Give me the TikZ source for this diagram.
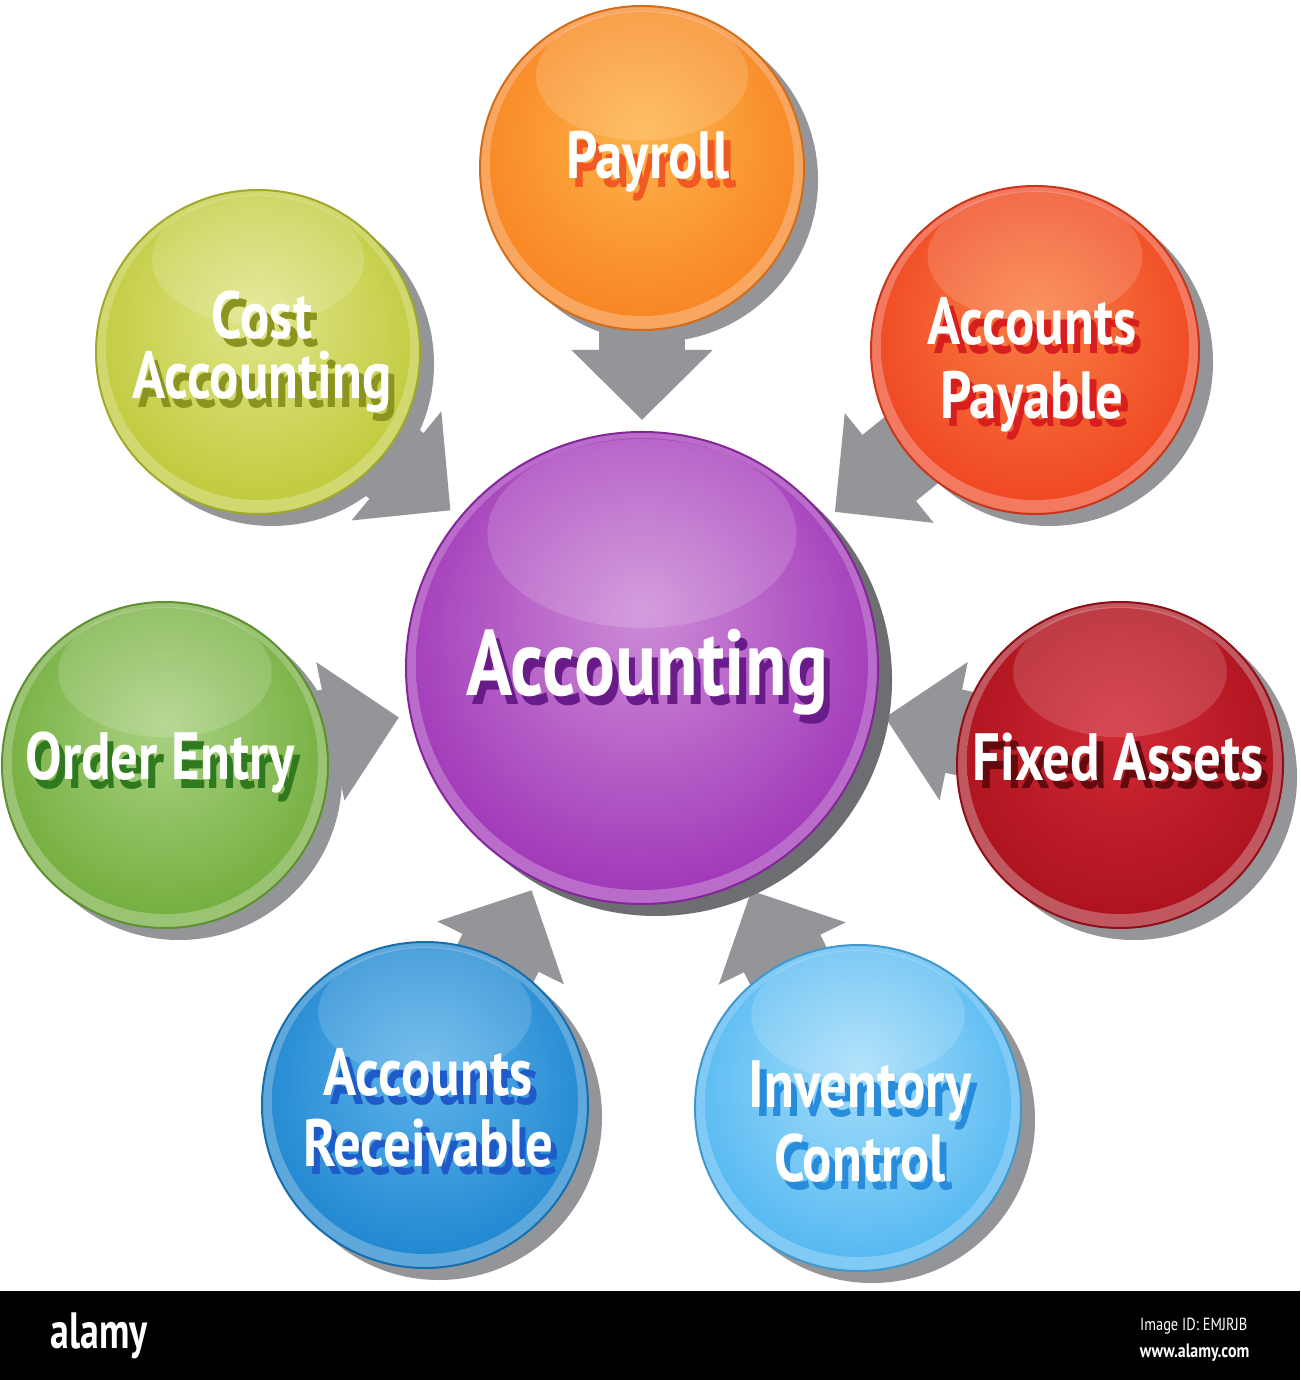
\documentclass[tikz,border=0pt]{standalone}
\usepackage{fontspec}
\newfontfamily\lblfont{PT Sans}[FakeStretch=0.82]
\newfontfamily\brandfont{PT Sans}[FakeStretch=0.74]
\usetikzlibrary{calc,arrows.meta}
\definecolor{arrowgray}{HTML}{939598}
\definecolor{darkgray}{HTML}{6D6E71}
\definecolor{payout}{HTML}{F7801E}\definecolor{payin}{HTML}{FDB44B}\definecolor{payshd}{HTML}{F05A22}
\definecolor{apout}{HTML}{EE401E}\definecolor{apin}{HTML}{F98044}\definecolor{apshd}{HTML}{D81E1E}
\definecolor{caout}{HTML}{BCC732}\definecolor{cain}{HTML}{E1E68C}\definecolor{cashd}{HTML}{8C9420}
\definecolor{accout}{HTML}{9B2DB4}\definecolor{accin}{HTML}{CD8CD7}\definecolor{accshd}{HTML}{6A1B8A}
\definecolor{oeout}{HTML}{6EAA37}\definecolor{oein}{HTML}{AAD282}\definecolor{oeshd}{HTML}{2F7A1E}
\definecolor{faout}{HTML}{A8101B}\definecolor{fain}{HTML}{D02A35}\definecolor{fashd}{HTML}{640A0F}
\definecolor{arout}{HTML}{1982CD}\definecolor{arin}{HTML}{5FB4EB}\definecolor{arshd}{HTML}{1E5AC8}
\definecolor{icout}{HTML}{4BB4F0}\definecolor{icin}{HTML}{A6DEFA}\definecolor{icshd}{HTML}{288CDC}
\colorlet{ballin}{white}\colorlet{ballout}{gray}\colorlet{shd}{black}
\pgfdeclareradialshading[ballin,ballout]{glow}{\pgfpoint{0bp}{6bp}}{color(0bp)=(ballin); color(32bp)=(ballout); color(50bp)=(ballout)}
\tikzset{
  spot/.style={circle, inner sep=0pt, outer sep=0pt, minimum size={2*#1*0.01cm}},
  bigarrow/.style={arrowgray, line width=0.85cm, -{Triangle[width=1.37cm,length=0.7cm]},
    shorten <=-0.3cm, shorten >=0.12cm},
  lbl/.style={inner sep=0pt, align=center, text=white, font=\lblfont\bfseries\fontsize{19pt}{20.5pt}\selectfont},
  biglbl/.style={font=\lblfont\bfseries\fontsize{26.5pt}{28pt}\selectfont}
}
% one line of text over its offset shadow
\newcommand{\sh}[1]{\makebox[0pt][l]{\raisebox{-0.085cm}{\hspace{0.065cm}\textcolor{shd}{#1}}}#1}
% ball: name, radius (px), outer colour, inner colour, shadow colour
\newcommand{\ballfill}[5]{%
  \fill[#5] ($(#1)+(14,12)$) circle (#2);
  \fill[#3!70!white, draw=#3!85!black, line width=0.02cm] (#1) circle (#2);
  \colorlet{ballin}{#4}\colorlet{ballout}{#3}%
  \shade[shading=glow] ($(#1)+(0,-4)$) circle (#2-10);
  \fill[white, opacity=0.15] ($(#1)+(0,-0.57*#2)$) ellipse ({0.655*#2} and {0.4*#2});
}
% label: name, position, shadow colour, extra style, lines
\newcommand{\castlabel}[5]{%
  \colorlet{shd}{#3}%
  \node[lbl, #4] (#1) at (#2) {#5};
}
\begin{document}
\begin{tikzpicture}[x=0.01cm, y=-0.01cm]
  \fill[white] (0,0) rectangle (1300,1380);
  \useasboundingbox (0,0) rectangle (1300,1380);
  % circles
  \node[spot=236] (acc) at (642,668) {};
  \node[spot=162] (pay) at (642,168) {};
  \node[spot=164] (ap)  at (1035,350) {};
  \node[spot=162] (ca)  at (258,352) {};
  \node[spot=163] (oe)  at (165,765) {};
  \node[spot=163] (fa)  at (1120,765) {};
  \node[spot=163] (ar)  at (425,1105) {};
  \node[spot=163] (ic)  at (858,1108) {};
  % arrows into the middle
  \foreach \n in {pay,ap,ca,oe,fa,ar,ic}
    \draw[bigarrow] (\n) -- (acc);
  \ballfill{pay}{162}{payout}{payin}{arrowgray}
  \ballfill{ap}{164}{apout}{apin}{arrowgray}
  \ballfill{ca}{162}{caout}{cain}{arrowgray}
  \ballfill{oe}{163}{oeout}{oein}{arrowgray}
  \ballfill{fa}{163}{faout}{fain}{arrowgray}
  \ballfill{ar}{163}{arout}{arin}{arrowgray}
  \ballfill{ic}{163}{icout}{icin}{arrowgray}
  \ballfill{acc}{236}{accout}{accin}{darkgray}
  % labels
  \castlabel{payt}{648,166}{payshd}{}{\sh{Payroll}}
  \castlabel{apt}{1032,369}{apshd}{font=\lblfont\bfseries\fontsize{19pt}{21pt}\selectfont}{\sh{Accounts}\\\sh{Payable}}
  \castlabel{cat}{262,356}{cashd}{font=\lblfont\bfseries\fontsize{19pt}{13.7pt}\selectfont}{\sh{Cost}\\\sh{Accounting}}
  \castlabel{acct}{647,677}{accshd}{biglbl}{\sh{Accounting}}
  \castlabel{oet}{160,767}{oeshd}{}{\sh{Order Entry}}
  \castlabel{fat}{1118,761}{fashd}{}{\sh{Fixed Assets}}
  \castlabel{art}{428,1112}{arshd}{font=\lblfont\bfseries\fontsize{19pt}{20pt}\selectfont}{\sh{Accounts}\\\sh{Receivable}}
  \castlabel{ict}{860,1126}{icshd}{font=\lblfont\bfseries\fontsize{19pt}{17pt}\selectfont}{\sh{Inventory}\\\sh{Control}}
  % stock bar
  \fill[black] (0,1291) rectangle (1300,1380);
  \node[lbl, font=\brandfont\bfseries\fontsize{14.5pt}{15pt}\selectfont, anchor=west] (brand) at (50,1336) {alamy};
  \node[lbl, font=\lblfont\fontsize{5pt}{6pt}\selectfont, anchor=east] (imgid) at (1248,1326) {Image ID: EMJRJB};
  \node[lbl, font=\lblfont\bfseries\fontsize{5.5pt}{6pt}\selectfont, anchor=east] (site) at (1250,1353) {www.alamy.com};
\end{tikzpicture}
\end{document}
